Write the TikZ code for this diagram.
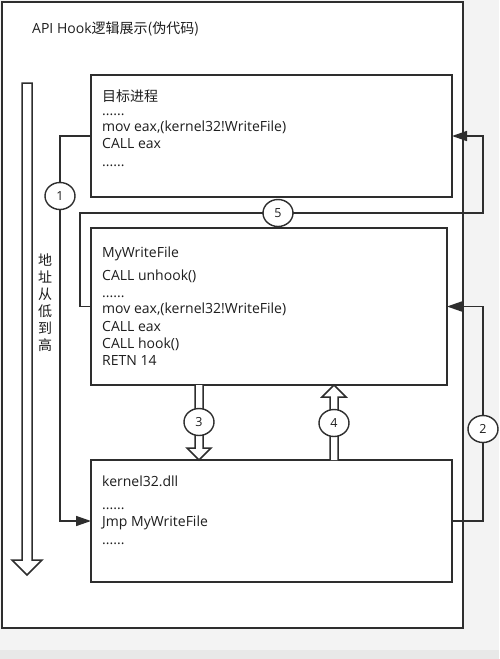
\documentclass[tikz,border=0pt]{standalone}
\usepackage{fontspec}
\setmainfont{Open Sans}
\newfontfamily\cjk{Noto Sans CJK SC}
\usetikzlibrary{shapes.geometric,arrows.meta}
\definecolor{inkgray}{HTML}{2E2E2E}
\definecolor{textgray}{HTML}{1E1E1E}
\definecolor{pagegray}{HTML}{F3F3F3}
\definecolor{bandgray}{HTML}{E8E8E8}
\newcommand\sixdots{......}
\tikzset{
  box/.style={draw=inkgray, line width=1.7pt, fill=white, anchor=north west, inner sep=0pt, outer sep=0pt},
  code/.style={anchor=base west, inner sep=0pt, text=textgray, font=\fontsize{14}{16}\selectfont},
  num/.style={ellipse, draw=inkgray, line width=1.4pt, fill=white, minimum width=30pt, minimum height=27pt, inner sep=0pt, text=textgray, font=\fontsize{12.5}{14}\selectfont},
  conn/.style={draw=inkgray, line width=1.5pt, -{Triangle[length=15pt,width=10pt]}},
  wire/.style={draw=inkgray, line width=1.5pt},
  hollow/.style={draw=inkgray, line width=1.5pt, fill=white, line join=miter},
}
\begin{document}
\begin{tikzpicture}[x=1pt, y=-1pt]
    % Page and frame
    \useasboundingbox (0,0) rectangle (499,659);
    \fill[pagegray] (0,0) rectangle (499,659);
    \fill[bandgray] (0,650) rectangle (499,659);
    \draw[wire, line width=1.7pt, fill=white] (2,2) rectangle (463,628);

    % Title
    \node[code, font=\fontsize{14}{16}\selectfont] (title) at (32,33) {API Hook{\cjk 逻辑展示(伪代码)}};

    % Address direction
    \draw[hollow] (22,83) -- (22,560) -- (12,560) -- (27,575) -- (42,560) -- (32,560) -- (32,83) -- cycle;
    \node[text=textgray, align=center, inner sep=0pt, font=\cjk\fontsize{14}{17}\selectfont] (addr) at (45,303) {地\\址\\从\\低\\到\\高};

    % Boxes
    \node[box, minimum width=361pt, minimum height=122pt] (tgt) at (91,75) {};
    \node[box, minimum width=356pt, minimum height=157pt] (mwf) at (91,228) {};
    \node[box, minimum width=361pt, minimum height=122pt] (k32) at (91,460) {};

    % Box texts
    \foreach \y/\t [count=\i] in {101/{\cjk 目标进程}, 115/\sixdots, 131/{mov eax,(kernel32!WriteFile)}, 148/CALL eax, 166/\sixdots}
        \node[code] (tgt-\i) at (102,\y) {\t};
    \foreach \y/\t [count=\i] in {257/MyWriteFile, 280/CALL unhook(), 297/\sixdots, 313/{mov eax,(kernel32!WriteFile)}, 331/CALL eax, 348/CALL hook(), 365/RETN 14}
        \node[code] (mwf-\i) at (102,\y) {\t};
    \foreach \y/\t [count=\i] in {486/kernel32.dll, 509/\sixdots, 526/Jmp MyWriteFile, 544/\sixdots}
        \node[code] (k32-\i) at (102,\y) {\t};

    % Connector columns
    \coordinate (c1) at (60,0);
    \coordinate (c5) at (80,0);
    \coordinate (cr) at (483,0);
    \coordinate (y5) at (0,213);
    \coordinate (s3) at (199,0);
    \coordinate (s4) at (334,0);

    % Connectors
    \draw[conn] (tgt.west) -- (tgt.west -| c1) -- (k32.west -| c1) -- (k32.west);
    \draw[conn] (k32.east) -- (k32.east -| cr) -- (mwf.east -| cr) -- (mwf.east);
    \draw[conn] (mwf.west) -- (mwf.west -| c5) -- (c5 |- y5) -- (cr |- y5) -- (tgt.east -| cr) -- (tgt.east);

    % Call and return
    \draw[hollow] (mwf.south -| s3) ++(-4,0) -- ++(0,63) -- ++(-8,0) -- ++(12,12) -- ++(12,-12) -- ++(-8,0) -- ++(0,-63);
    \draw[hollow] (k32.north -| s4) ++(-4,0) -- ++(0,-63) -- ++(-8,0) -- ++(12,-12) -- ++(12,12) -- ++(-8,0) -- ++(0,63);

    % Step numbers
    \node[num] (n1) at (60,196) {1};
    \node[num] (n2) at (483,429) {2};
    \node[num] (n3) at (199,422) {3};
    \node[num] (n4) at (334,423) {4};
    \node[num] (n5) at (278,213) {5};
\end{tikzpicture}
\end{document}
